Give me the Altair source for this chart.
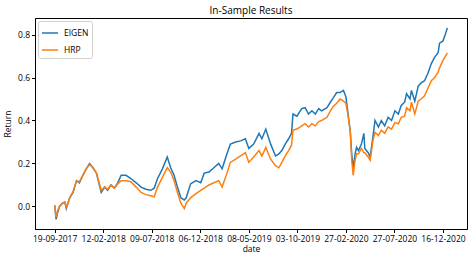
import json
import altair as alt
import pandas as pd

# trading-day index (x) and cumulative returns
idx = [0, 3, 6, 10, 16, 21, 24, 31, 38, 45, 51, 58, 65, 72, 79, 86, 91, 96, 103, 109,
       116, 123, 130, 137, 147, 157, 168, 178, 188, 198, 205, 212, 222, 232, 239, 246,
       253, 260, 267, 271, 280, 291, 301, 308, 318, 328, 338, 345, 355, 362, 373, 383,
       393, 400, 410, 421, 427, 435, 445, 455, 462, 468, 475, 482, 488, 491, 499, 509,
       516, 523, 530, 537, 544, 550, 561, 568, 574, 581, 588, 595, 600, 604, 609, 612,
       615, 619, 622, 626, 632, 637, 639, 646, 650, 656, 660, 667, 673, 680, 687, 694,
       701, 708, 714, 721, 725, 732, 735, 742, 749, 755, 762, 769, 776, 783, 790, 793,
       800, 804, 809]

eigen = [0.005, -0.06, -0.03, 0.0, 0.015, 0.02, -0.01, 0.04, 0.065, 0.12, 0.11, 0.145,
         0.175, 0.20, 0.18, 0.155, 0.11, 0.065, 0.09, 0.075, 0.10, 0.085, 0.11, 0.145,
         0.145, 0.13, 0.11, 0.09, 0.08, 0.075, 0.085, 0.13, 0.175, 0.23, 0.18, 0.145,
         0.09, 0.04, 0.03, 0.04, 0.105, 0.12, 0.11, 0.155, 0.16, 0.18, 0.20, 0.175,
         0.245, 0.29, 0.30, 0.305, 0.315, 0.27, 0.29, 0.34, 0.315, 0.36, 0.29, 0.235,
         0.245, 0.26, 0.29, 0.315, 0.34, 0.43, 0.42, 0.455, 0.46, 0.43, 0.445, 0.43,
         0.455, 0.445, 0.46, 0.485, 0.505, 0.53, 0.53, 0.54, 0.51, 0.44, 0.35, 0.245,
         0.18, 0.245, 0.275, 0.26, 0.29, 0.34, 0.27, 0.25, 0.23, 0.33, 0.40, 0.37,
         0.40, 0.375, 0.415, 0.40, 0.445, 0.43, 0.47, 0.485, 0.525, 0.50, 0.54, 0.49,
         0.56, 0.575, 0.585, 0.62, 0.665, 0.695, 0.715, 0.76, 0.77, 0.795, 0.83]

hrp = [0.005, -0.05, -0.02, 0.0, 0.015, 0.02, -0.005, 0.04, 0.07, 0.12, 0.115, 0.145,
       0.175, 0.195, 0.18, 0.155, 0.115, 0.075, 0.09, 0.08, 0.10, 0.085, 0.105, 0.12,
       0.12, 0.115, 0.09, 0.065, 0.055, 0.05, 0.045, 0.09, 0.135, 0.18, 0.16, 0.12,
       0.065, 0.015, -0.01, 0.015, 0.04, 0.06, 0.075, 0.085, 0.10, 0.11, 0.12, 0.09,
       0.155, 0.205, 0.22, 0.235, 0.25, 0.205, 0.23, 0.26, 0.235, 0.275, 0.22, 0.19,
       0.18, 0.205, 0.235, 0.26, 0.285, 0.355, 0.36, 0.375, 0.385, 0.37, 0.385, 0.375,
       0.395, 0.40, 0.415, 0.445, 0.465, 0.48, 0.50, 0.49, 0.48, 0.43, 0.35, 0.215,
       0.145, 0.215, 0.245, 0.245, 0.27, 0.25, 0.25, 0.23, 0.215, 0.31, 0.345, 0.33,
       0.355, 0.34, 0.37, 0.36, 0.39, 0.385, 0.415, 0.42, 0.46, 0.445, 0.485, 0.43,
       0.49, 0.50, 0.515, 0.55, 0.585, 0.60, 0.625, 0.645, 0.68, 0.695, 0.715]

tick_pos = [0, 100, 200, 300, 400, 500, 600, 700, 800]
tick_labels = ["19-09-2017", "12-02-2018", "09-07-2018", "06-12-2018", "08-05-2019",
               "03-10-2019", "27-02-2020", "27-07-2020", "16-12-2020"]

rows = []
for i, e, h in zip(idx, eigen, hrp):
    rows.append({"i": i, "series": "EIGEN", "ret": e})
    rows.append({"i": i, "series": "HRP", "ret": h})
df = pd.DataFrame(rows)

FONT = "Open Sans"
label_expr = json.dumps(tick_labels) + "[round(datum.value/100)]"

chart = alt.Chart(df).mark_line(strokeWidth=1.5).encode(
    x=alt.X("i:Q", title="date",
            scale=alt.Scale(domain=[-40.5, 849.5], nice=False, zero=False),
            axis=alt.Axis(values=tick_pos, labelExpr=label_expr, grid=False,
                          labelOverlap=False, labelFlush=False, labelBound=False)),
    y=alt.Y("ret:Q", title="Return",
            scale=alt.Scale(domain=[-0.105, 0.877], nice=False, zero=False),
            axis=alt.Axis(values=[0.0, 0.2, 0.4, 0.6, 0.8], format=".1f", grid=False,
                          labelOverlap=False)),
    color=alt.Color("series:N",
                    scale=alt.Scale(domain=["EIGEN", "HRP"], range=["#1f77b4", "#ff7f0e"]),
                    legend=alt.Legend(title=None, orient="none", legendX=3, legendY=3,
                                      symbolType="stroke", symbolStrokeWidth=1.5, symbolSize=260,
                                      labelFont=FONT, labelFontSize=8.5, labelColor="#000",
                                      labelOffset=5, fillColor="white", strokeColor="#d0d0d0",
                                      padding=3, rowPadding=3, cornerRadius=2)),
    detail="series:N",
).properties(
    width=432, height=211,
    title=alt.Title("In-Sample Results", font=FONT, fontSize=10, fontWeight="normal",
                    color="#000", offset=2),
    padding={"left": 35, "top": 18, "right": 7, "bottom": 30},
    autosize=alt.AutoSizeParams(type="none"),
).configure_view(
    stroke="#000", strokeWidth=1
).configure_axis(
    labelFont=FONT, labelFontSize=8.5, labelColor="#000",
    titleFont=FONT, titleFontSize=8.5, titleFontWeight="normal", titleColor="#000",
    domainColor="#000", tickColor="#000", tickSize=3.5, labelPadding=2,
).configure_axisX(titlePadding=1).configure_axisY(titlePadding=5)

chart.save("out.html", embed_options={"renderer": "svg", "actions": False})
